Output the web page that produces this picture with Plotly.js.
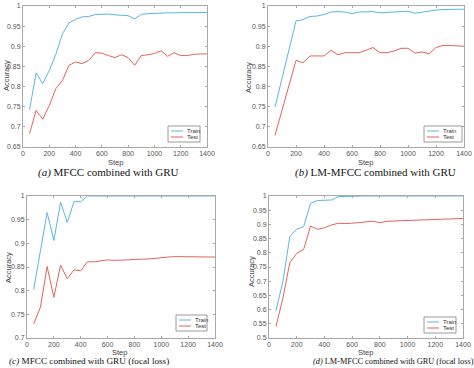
<!DOCTYPE html>
<html><head><meta charset="utf-8">
<script src="https://cdn.plot.ly/plotly-3.0.1.min.js"></script>
<style>html,body{margin:0;padding:0;background:#fff}#c{width:474px;height:368px}</style>
</head><body><div id="c"></div>
<script>
const steps = [50,100,150,200,250,300,350,400,450,500,550,600,650,700,750,800,850,900,950,1000,1050,1100,1150,1200,1250,1300,1350,1400];
const aTrain = [0.743,0.834,0.807,0.840,0.880,0.931,0.958,0.967,0.973,0.974,0.979,0.980,0.980,0.978,0.977,0.976,0.968,0.979,0.981,0.982,0.982,0.983,0.983,0.984,0.984,0.984,0.984,0.984];
const aTest  = [0.683,0.741,0.719,0.753,0.795,0.815,0.853,0.861,0.857,0.865,0.884,0.883,0.877,0.872,0.879,0.872,0.853,0.877,0.879,0.882,0.889,0.875,0.884,0.877,0.877,0.880,0.881,0.881];
const bTrain = [0.749,0.820,0.890,0.963,0.966,0.974,0.975,0.979,0.985,0.986,0.985,0.981,0.985,0.986,0.986,0.983,0.984,0.986,0.987,0.987,0.982,0.985,0.988,0.990,0.991,0.992,0.992,0.992];
const bTest  = [0.679,0.740,0.807,0.865,0.859,0.876,0.876,0.876,0.890,0.879,0.884,0.884,0.884,0.890,0.897,0.884,0.884,0.888,0.895,0.895,0.883,0.886,0.881,0.897,0.902,0.902,0.901,0.900];
const cTrain = [0.803,0.885,0.965,0.906,0.987,0.944,0.988,0.988,1,1,1,1,1,1,1,1,1,1,1,1,1,1,1,1,1,1,1,1];
const cTest  = [0.730,0.765,0.851,0.786,0.854,0.825,0.844,0.842,0.861,0.861,0.863,0.865,0.864,0.864,0.865,0.866,0.866,0.867,0.868,0.870,0.871,0.872,0.872,0.872,0.871,0.871,0.871,0.871];
const dTrain = [0.596,0.698,0.857,0.883,0.892,0.974,0.984,0.985,0.986,0.998,0.999,1,1,1,1,1,1,1,1,1,1,1,1,1,1,1,1,1];
const dTest  = [0.540,0.640,0.765,0.798,0.812,0.894,0.883,0.888,0.898,0.904,0.903,0.904,0.906,0.909,0.911,0.906,0.911,0.912,0.913,0.915,0.915,0.916,0.917,0.918,0.919,0.920,0.921,0.921];
const seriesNames = ["Train","Test"];
const xTicks = [0,200,400,600,800,1000,1200,1400];
const yTicksA = [0.65,0.7,0.75,0.8,0.85,0.9,0.95,1];
const yTicksC = [0.7,0.75,0.8,0.85,0.9,0.95,1];
const yTicksD = [0.5,0.55,0.6,0.65,0.7,0.75,0.8,0.85,0.9,0.95,1];
const captions = [
  "<i>(a)</i> MFCC combined with GRU",
  "<i>(b)</i> LM-MFCC combined with GRU",
  "<i>(c)</i> MFCC combined with GRU (focal loss)",
  "<i>(d)</i> LM-MFCC combined with GRU (focal loss)"
];

const trainCol = "#5ab6e4", testCol = "#e6625c";
const W=474,H=368;
function px(x){return x/W;} function py(y){return 1-y/H;}
const panels = [
  {tr:aTrain, te:aTest, yt:yTicksA, yr:[0.65,1], box:[23,207,6,147], cap:[108,173,11], leg:[168,200,126,142], step:[115,162], acc:[6,76]},
  {tr:bTrain, te:bTest, yt:yTicksA, yr:[0.65,1], box:[268,464,6,147], cap:[375,173,11], leg:[424,462,126,142], step:[365,162], acc:[249,78]},
  {tr:cTrain, te:cTest, yt:yTicksC, yr:[0.7,1], box:[27,215,196,338], cap:[89,361,9.2], leg:[176,207,315,331], step:[119,352], acc:[8,268]},
  {tr:dTrain, te:dTest, yt:yTicksD, yr:[0.5,1], box:[269,463,196,338], cap:[393,361,8.3], leg:[424,456,317,333], step:[365,352], acc:[251,272]}
];
const data=[], layout={width:W,height:H,margin:{l:0,r:0,t:0,b:0},showlegend:false,paper_bgcolor:"#fff",plot_bgcolor:"#fff",
  font:{family:"Liberation Sans, Arial, sans-serif",size:7,color:"#555"},shapes:[],annotations:[]};
panels.forEach((p,i)=>{
  const n=i===0?"":String(i+1);
  const xa="x"+n, ya="y"+n;
  data.push({x:steps,y:p.tr,xaxis:xa,yaxis:ya,mode:"lines",name:seriesNames[0],line:{color:trainCol,width:1}});
  data.push({x:steps,y:p.te,xaxis:xa,yaxis:ya,mode:"lines",name:seriesNames[1],line:{color:testCol,width:1}});
  const axCommon={showgrid:false,zeroline:false,showline:true,linecolor:"#a8a8a8",linewidth:1,mirror:"ticks",ticks:"inside",ticklen:2,tickcolor:"#a8a8a8",tickfont:{size:7,color:"#555"}};
  layout["xaxis"+n]=Object.assign({},axCommon,{domain:[px(p.box[0]),px(p.box[1])],range:[0,1400],tickvals:xTicks,anchor:ya});
  layout["yaxis"+n]=Object.assign({},axCommon,{domain:[py(p.box[3]),py(p.box[2])],range:p.yr,tickvals:p.yt,anchor:xa});
  layout.annotations.push({text:captions[i],x:px(p.cap[0]),y:py(p.cap[1]),xref:"paper",yref:"paper",showarrow:false,xanchor:"center",yanchor:"middle",font:{family:"Liberation Serif, Times New Roman, serif",size:p.cap[2],color:"#111"}});
  layout.annotations.push({text:"Step",x:px(p.step[0]),y:py(p.step[1]),xref:"paper",yref:"paper",showarrow:false,xanchor:"center",yanchor:"middle",font:{size:7.5,color:"#444"}});
  layout.annotations.push({text:"Accuracy",x:px(p.acc[0]),y:py(p.acc[1]),xref:"paper",yref:"paper",showarrow:false,textangle:-90,xanchor:"center",yanchor:"middle",font:{size:7.5,color:"#444"}});
  const [lx0,lx1,ly0,ly1]=p.leg;
  layout.shapes.push({type:"rect",xref:"paper",yref:"paper",x0:px(lx0),x1:px(lx1),y0:py(ly1),y1:py(ly0),line:{color:"#9a9a9a",width:1},fillcolor:"#fff"});
  const rows=[[trainCol,seriesNames[0],ly0+5],[testCol,seriesNames[1],ly0+11]];
  rows.forEach(r=>{
    layout.shapes.push({type:"line",xref:"paper",yref:"paper",x0:px(lx0+3),x1:px(lx0+15),y0:py(r[2]),y1:py(r[2]),line:{color:r[0],width:1}});
    layout.annotations.push({text:r[1],x:px(lx0+17),y:py(r[2]),xref:"paper",yref:"paper",showarrow:false,xanchor:"left",yanchor:"middle",font:{size:6,color:"#333"}});
  });
});
Plotly.newPlot("c",data,layout,{staticPlot:true});
</script></body></html>
